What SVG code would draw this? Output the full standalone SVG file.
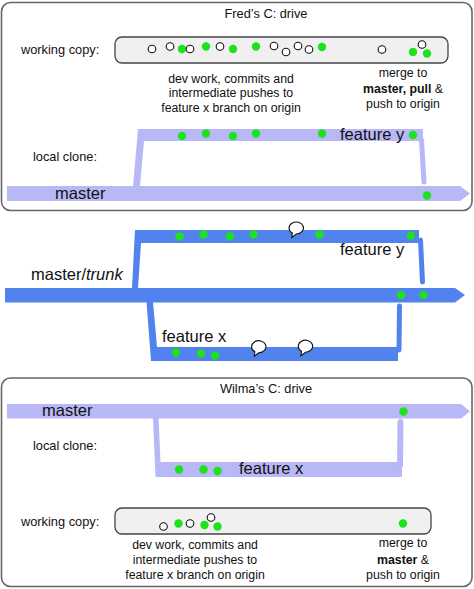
<svg xmlns="http://www.w3.org/2000/svg" width="474" height="589" viewBox="0 0 474 589">
<style>
text{font-family:"Liberation Sans",Arial,Helvetica,sans-serif;fill:#111}
.s{font-size:12.8px}
.m{font-size:12.3px}
.b{font-size:16.5px}
.c{text-anchor:middle}
.box{fill:#fff;stroke:#666;stroke-width:1.6}
.wc{fill:#f0f0f1;stroke:#444;stroke-width:1.3}
.lav{fill:#b8b8f6}
.lavl{stroke:#b8b8f6;stroke-linecap:round;fill:none}
.blu{fill:#5282ee}
.blul{stroke:#5282ee;stroke-linecap:round;fill:none}
.g{fill:#1de21d}
.o{fill:#fff;stroke:#111;stroke-width:1.1}
.bub{fill:#fff;stroke:#111;stroke-width:1.1}
</style>
<g id="fred">
<rect class="box" x="1.5" y="2.5" width="470.5" height="208" rx="9"/>
<text class="s c" x="266" y="17.5">Fred’s C: drive</text>
<text class="s" x="21" y="54">working copy:</text>
<text class="s" x="33" y="161">local clone:</text>
</g>
<g id="fred-working-copy">
<rect class="wc" x="115" y="37" width="333" height="26" rx="7"/>
<circle class="o" cx="152" cy="49" r="3.8"/>
<circle class="o" cx="170" cy="46.5" r="3.8"/>
<circle class="g" cx="182" cy="49" r="4.2"/>
<circle class="o" cx="190" cy="49" r="3.8"/>
<circle class="g" cx="206" cy="46.5" r="4.2"/>
<circle class="o" cx="220" cy="46.5" r="3.8"/>
<circle class="g" cx="233" cy="49" r="4.2"/>
<circle class="g" cx="256" cy="46.5" r="4.2"/>
<circle class="o" cx="274" cy="46" r="3.8"/>
<circle class="o" cx="286" cy="52" r="3.8"/>
<circle class="o" cx="298" cy="46" r="3.8"/>
<circle class="o" cx="309" cy="49.5" r="3.8"/>
<circle class="g" cx="322" cy="47" r="4.2"/>
<circle class="o" cx="382" cy="49.5" r="3.8"/>
<circle class="o" cx="422" cy="44.5" r="3.8"/>
<circle class="g" cx="413" cy="52" r="4.2"/>
<circle class="g" cx="427" cy="53.5" r="4.2"/>
<text class="m c" x="231" y="82.5">dev work, commits and</text>
<text class="m c" x="231" y="97">intermediate pushes to</text>
<text class="m c" x="231" y="111.5">feature x branch on origin</text>
<text class="m c" x="403" y="76.5">merge to</text>
<text class="m c" x="403" y="92.5"><tspan font-weight="bold">master, pull</tspan> &amp;</text>
<text class="m c" x="403" y="107.5">push to origin</text>
</g>
<g id="fred-local-clone">
<polygon class="lav" points="7,186 460,186 470,193.5 460,201 7,201"/>
<polygon class="lav" points="133,186 138,129 423,129 423,141 144,141 140,186"/>
<line class="lavl" x1="421.5" y1="140" x2="424" y2="182" stroke-width="5"/>
<text class="b" x="55" y="198.5">master</text>
<text class="b" x="340" y="139.5">feature y</text>
<circle class="g" cx="182" cy="136" r="4.2"/>
<circle class="g" cx="206" cy="133.5" r="4.2"/>
<circle class="g" cx="233" cy="136" r="4.2"/>
<circle class="g" cx="256" cy="133.5" r="4.2"/>
<circle class="g" cx="322" cy="133.5" r="4.2"/>
<circle class="g" cx="413" cy="135" r="4.2"/>
<circle class="g" cx="427" cy="195.5" r="4.2"/>
</g>
<g id="origin">
<polygon class="blu" points="5,288 455,288 465,295 455,302.5 5,302.5"/>
<polygon class="blu" points="132,288 135,230 419,230 419,243 141,243 138,288"/>
<line class="blul" x1="420.5" y1="240" x2="422.5" y2="282" stroke-width="5"/>
<polygon class="blu" points="146.5,302 153,302 157,347 398,347 398,361 151,361"/>
<line class="blul" x1="399" y1="350" x2="399.5" y2="306" stroke-width="5"/>
<text class="b" x="31" y="280">master/<tspan font-style="italic">trunk</tspan></text>
<text class="b" x="340" y="254.5">feature y</text>
<text class="b" x="162" y="341.5">feature x</text>
<circle class="g" cx="179.5" cy="236.5" r="4.2"/>
<circle class="g" cx="203.5" cy="234.5" r="4.2"/>
<circle class="g" cx="230" cy="236.5" r="4.2"/>
<circle class="g" cx="253.5" cy="234.5" r="4.2"/>
<circle class="g" cx="319.5" cy="234.5" r="4.2"/>
<circle class="g" cx="411" cy="235.5" r="4.2"/>
<circle class="g" cx="401" cy="295" r="4.2"/>
<circle class="g" cx="423.5" cy="295" r="4.2"/>
<circle class="g" cx="176" cy="352.5" r="4.2"/>
<circle class="g" cx="201" cy="353.5" r="4.2"/>
<circle class="g" cx="215" cy="355.5" r="4.2"/>
<path class="bub" d="M292.3,233 A7.2,6 0 1 1 296.3,234 L291.8,237.5 Z"/>
<path class="bub" d="M254.8,351.7 A7.2,6 0 1 1 258.8,352.7 L254.3,356.2 Z"/>
<path class="bub" d="M301.5,351.2 A7.2,6 0 1 1 305.5,352.2 L301,355.7 Z"/>
</g>
<g id="wilma">
<rect class="box" x="1.5" y="378" width="470.5" height="208.5" rx="9"/>
<text class="s c" x="266" y="393">Wilma’s C: drive</text>
<text class="s" x="33" y="449.5">local clone:</text>
<text class="s" x="21" y="525.5">working copy:</text>
</g>
<g id="wilma-local-clone">
<polygon class="lav" points="7,404 461,404 470,411.3 461,418.5 7,418.5"/>
<polygon class="lav" points="153,418 158.5,418 160.5,462 402,462 402,477 155.5,477"/>
<line class="lavl" x1="400" y1="465" x2="400.5" y2="422" stroke-width="6"/>
<text class="b" x="42" y="415.5">master</text>
<text class="b" x="239" y="473.5">feature x</text>
<circle class="g" cx="403.5" cy="411.5" r="4.2"/>
<circle class="g" cx="179" cy="469.5" r="4.2"/>
<circle class="g" cx="203.5" cy="469.5" r="4.2"/>
<circle class="g" cx="217.5" cy="471" r="4.2"/>
</g>
<g id="wilma-working-copy">
<rect class="wc" x="115" y="508" width="316" height="26" rx="7"/>
<circle class="o" cx="163.5" cy="526.5" r="3.8"/>
<circle class="g" cx="178.5" cy="523.5" r="4.2"/>
<circle class="o" cx="190" cy="523.5" r="3.8"/>
<circle class="g" cx="204.5" cy="525" r="4.2"/>
<circle class="o" cx="211" cy="517.5" r="3.8"/>
<circle class="g" cx="217.5" cy="526.5" r="4.2"/>
<circle class="g" cx="403" cy="523.5" r="4.2"/>
<text class="m c" x="195" y="548.5">dev work, commits and</text>
<text class="m c" x="195" y="564">intermediate pushes to</text>
<text class="m c" x="195" y="579">feature x branch on origin</text>
<text class="m c" x="403" y="547">merge to</text>
<text class="m c" x="403" y="563.5"><tspan font-weight="bold">master</tspan> &amp;</text>
<text class="m c" x="403" y="579">push to origin</text>
</g>
<g id="connectors"></g>
</svg>
